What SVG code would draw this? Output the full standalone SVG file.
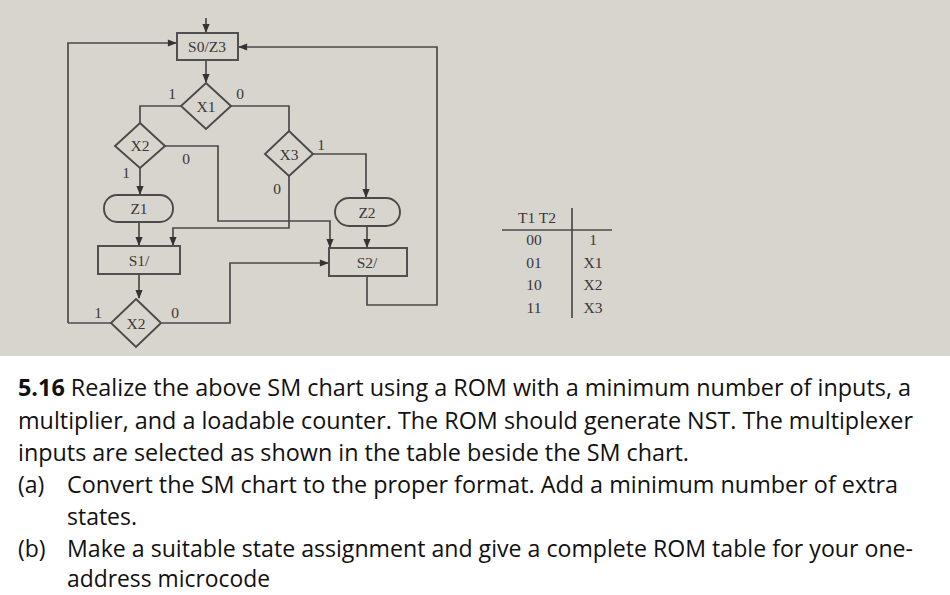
<svg xmlns="http://www.w3.org/2000/svg" width="950" height="595" viewBox="0 0 950 595">
<defs>
<marker id="ah" viewBox="0 0 10 10" refX="9" refY="5" markerWidth="10" markerHeight="9" orient="auto" markerUnits="userSpaceOnUse"><path d="M0,1 L10,5 L0,9 z" fill="#333"/></marker>
</defs>
<style>
.s{fill:none;stroke:#4a4a4a;stroke-width:1.9}
.c{fill:none;stroke:#4a4a4a;stroke-width:1.7}
.a{marker-end:url(#ah)}
.t{font-family:"Liberation Serif",serif;font-size:15.5px;fill:#383838;text-anchor:middle}
.q{font-family:"Open Sans",sans-serif;font-size:23px;fill:#111}
</style>
<rect x="0" y="0" width="950" height="356" fill="#d8d5ce"/>
<rect x="0" y="356" width="950" height="239" fill="#fff"/>
<g id="connectors">
<path class="c a" d="M206,18 V32"/>
<path class="c a" d="M206,60 V82"/>
<path class="c a" d="M68,323 V43 H176"/>
<path class="c a" d="M367,276 V305 H437 V47 H239"/>
<path class="c" d="M181,106 H140 V123"/>
<path class="c" d="M231,106 H289 V131"/>
<path class="c a" d="M140,168 V194"/>
<path class="c a" d="M313,154 H366 V197"/>
<path class="c a" d="M165,146 H218 V221 H330 V247"/>
<path class="c a" d="M289,176 V228 H173 V245"/>
<path class="c a" d="M139,222 V245"/>
<path class="c a" d="M367,226 V247"/>
<path class="c a" d="M139,274 V298"/>
<path class="c" d="M111,323 H68"/>
<path class="c a" d="M162,323 H230 V263 H328"/>
</g>
<g id="S0"><rect class="s" x="177" y="33" width="61" height="27"/><text class="t" x="207" y="52">S0/Z3</text></g>
<g id="X1"><path class="s" d="M206,83 L231,106 L206,129 L181,106 z"/><text class="t" x="206" y="112">X1</text><text class="t" x="172" y="99">1</text><text class="t" x="240" y="99">0</text></g>
<g id="X2a"><path class="s" d="M140,123 L165,146 L140,168 L115,146 z"/><text class="t" x="140" y="151">X2</text><text class="t" x="186" y="164">0</text><text class="t" x="126" y="178">1</text></g>
<g id="X3"><path class="s" d="M289,131 L313,154 L289,176 L265,154 z"/><text class="t" x="289" y="160">X3</text><text class="t" x="321" y="150">1</text><text class="t" x="277" y="194">0</text></g>
<g id="Z1"><rect class="s" x="104" y="195" width="69" height="27" rx="13"/><text class="t" x="139" y="214">Z1</text></g>
<g id="Z2"><rect class="s" x="335" y="198" width="65" height="28" rx="14"/><text class="t" x="367" y="218">Z2</text></g>
<g id="S1"><rect class="s" x="98" y="246" width="82" height="28"/><text class="t" x="139" y="266">S1/</text></g>
<g id="S2"><rect class="s" x="329" y="248" width="78" height="28"/><text class="t" x="367" y="268">S2/</text></g>
<g id="X2b"><path class="s" d="M136,299 L161,323 L136,347 L111,323 z"/><text class="t" x="136" y="329">X2</text><text class="t" x="98" y="318">1</text><text class="t" x="175" y="318">0</text></g>
<g id="table">
<path class="c" d="M572,208 V318 M502,230 H612"/>
<text class="t" x="537" y="223">T1 T2</text>
<text class="t" x="534" y="245">00</text><text class="t" x="534" y="268">01</text><text class="t" x="534" y="290">10</text><text class="t" x="534" y="313">11</text>
<text class="t" x="593" y="245">1</text><text class="t" x="593" y="268">X1</text><text class="t" x="593" y="290">X2</text><text class="t" x="593" y="313">X3</text>
</g>
<g id="question">
<text class="q" x="18" y="396" textLength="893" lengthAdjust="spacingAndGlyphs"><tspan font-weight="bold">5.16</tspan> Realize the above SM chart using a ROM with a minimum number of inputs, a</text>
<text class="q" x="18" y="429" textLength="895" lengthAdjust="spacingAndGlyphs">multiplier, and a loadable counter. The ROM should generate NST. The multiplexer</text>
<text class="q" x="18" y="461" textLength="671" lengthAdjust="spacingAndGlyphs">inputs are selected as shown in the table beside the SM chart.</text>
<text class="q" x="18" y="493">(a)</text>
<text class="q" x="67" y="493" textLength="831" lengthAdjust="spacingAndGlyphs">Convert the SM chart to the proper format. Add a minimum number of extra</text>
<text class="q" x="67" y="525" textLength="70" lengthAdjust="spacingAndGlyphs">states.</text>
<text class="q" x="18" y="557">(b)</text>
<text class="q" x="67" y="557" textLength="846" lengthAdjust="spacingAndGlyphs">Make a suitable state assignment and give a complete ROM table for your one-</text>
<text class="q" x="67" y="587" textLength="203" lengthAdjust="spacingAndGlyphs">address microcode</text>
</g>
</svg>
